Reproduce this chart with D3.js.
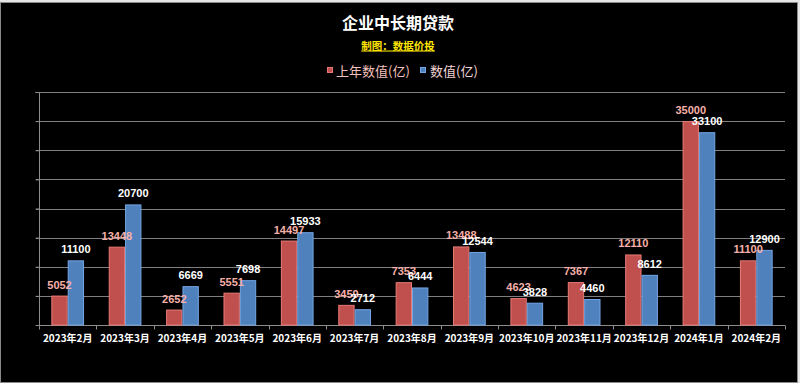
<!DOCTYPE html>
<html><head><meta charset="utf-8">
<script src="https://cdn.jsdelivr.net/npm/d3@7"></script>
<style>
html,body{margin:0;padding:0;background:#e8e8e8;}
svg{display:block;}
</style></head>
<body>
<svg id="chart" width="800" height="383"></svg>
<script>
const categories = ["2023年2月","2023年3月","2023年4月","2023年5月","2023年6月","2023年7月","2023年8月","2023年9月","2023年10月","2023年11月","2023年12月","2024年1月","2024年2月"];
const lastYearValues = [5052,13448,2652,5551,14497,3459,7353,13488,4623,7367,12110,35000,11100];
const currentValues = [11100,20700,6669,7698,15933,2712,6444,12544,3828,4460,8612,33100,12900];
const seriesNames = ["上年数值(亿)","数值(亿)"];
const yTicks = [0,5000,10000,15000,20000,25000,30000,35000,40000];
const titleText = "企业中长期贷款";
const subtitleText = "制图：数据价投";

(function(){
const svg = d3.select("#chart");
const W = 800, H = 383;
const cjk = "'Noto Sans CJK SC','Microsoft YaHei',sans-serif";

// background and frame
svg.append("rect").attr("x",0).attr("y",0).attr("width",W).attr("height",H).attr("fill","#e6e6e6");
svg.append("rect").attr("x",0.5).attr("y",2.5).attr("width",797).attr("height",380)
  .attr("fill","#000").attr("stroke","#8a8a8a").attr("stroke-width",1);

const pLeft = 39, pRight = 785, pTop = 92, pBottom = 325;
const x = d3.scaleBand().domain(categories).range([pLeft,pRight]).paddingInner(0.43).paddingOuter(0.215);
const xs = d3.scaleBand().domain([0,1]).range([0,x.bandwidth()]);
const y = d3.scaleLinear().domain([0,40000]).range([pBottom,pTop]);

// gridlines
svg.append("g").selectAll("line").data(yTicks.slice(1)).join("line")
  .attr("x1",pLeft-3).attr("x2",pRight)
  .attr("y1",d=>Math.round(y(d))+0.5).attr("y2",d=>Math.round(y(d))+0.5)
  .attr("stroke","#7f7f7f").attr("stroke-width",1);

// y axis
const yAxis = svg.append("g").attr("transform",`translate(${pLeft+0.5},0)`)
  .call(d3.axisLeft(y).tickValues(yTicks).tickSize(4).tickFormat(""));
yAxis.selectAll("path,line").attr("stroke","#8c8c8c");
yAxis.select(".domain").attr("d",`M-4,${pTop}.5H0V${pBottom}.5`);

// x axis
const xAxis = svg.append("g").attr("transform",`translate(0,${pBottom+0.5})`);
xAxis.append("line").attr("x1",pLeft).attr("x2",pRight).attr("y1",0).attr("y2",0).attr("stroke","#8c8c8c");
const bounds = categories.map((c,i)=>pLeft + i*x.step()).concat([pRight]);
xAxis.selectAll("line.t").data(bounds).join("line").attr("class","t")
  .attr("x1",d=>Math.round(d)+0.5).attr("x2",d=>Math.round(d)+0.5).attr("y1",0).attr("y2",4).attr("stroke","#8c8c8c");
xAxis.selectAll("text").data(categories).join("text")
  .attr("x",d=>x(d)+x.bandwidth()/2).attr("y",16)
  .attr("text-anchor","middle").attr("fill","#fff")
  .style("font-family",cjk).style("font-size","10px").style("font-weight","bold")
  .text(d=>d);

// bars
const series = [
  {name:seriesNames[0], values:lastYearValues, fill:"#c0504d", stroke:"#e87a76", label:"#f7b0a8"},
  {name:seriesNames[1], values:currentValues, fill:"#4f81bd", stroke:"#74a6e6", label:"#ffffff"}
];
series.forEach((s,si)=>{
  const g = svg.append("g");
  g.selectAll("rect").data(categories).join("rect")
    .attr("x",(d)=>x(d)+xs(si)+0.5)
    .attr("y",(d,i)=>y(s.values[i])+0.5)
    .attr("width",xs.bandwidth()-1)
    .attr("height",(d,i)=>pBottom - y(s.values[i]) - 0.5)
    .attr("fill",s.fill).attr("stroke",s.stroke).attr("stroke-width",1);
});
series.forEach((s,si)=>{
  svg.append("g").selectAll("text").data(categories).join("text")
    .attr("x",d=>x(d)+xs(si)+xs.bandwidth()/2)
    .attr("y",(d,i)=>y(s.values[i])-7)
    .attr("text-anchor","middle").attr("fill",s.label)
    .style("font-family","'Liberation Sans',Arial,sans-serif").style("font-size","11px").style("font-weight","bold")
    .text((d,i)=>s.values[i]);
});

// title
svg.append("text").attr("x",398).attr("y",28.5).attr("text-anchor","middle").attr("fill","#fff")
  .style("font-family",cjk).style("font-size","16px").style("font-weight","bold").text(titleText);
svg.append("text").attr("x",398).attr("y",49.5).attr("text-anchor","middle").attr("fill","#ffe600")
  .style("font-family",cjk).style("font-size","10.5px").style("font-weight","bold")
  .style("text-decoration","underline").text(subtitleText);

// legend
const legend = svg.append("g");
const legendItems = [
  {x:327, sq:series[0].fill, sqs:series[0].stroke, text:seriesNames[0], tx:336, col:"#f4c2bd"},
  {x:420, sq:series[1].fill, sqs:series[1].stroke, text:seriesNames[1], tx:430, col:"#f2d6d6"}
];
legendItems.forEach(it=>{
  legend.append("rect").attr("x",it.x+0.5).attr("y",67.5).attr("width",5).attr("height",5)
    .attr("fill",it.sq).attr("stroke",it.sqs);
  legend.append("text").attr("x",it.tx).attr("y",75.5).attr("fill",it.col)
    .style("font-family",cjk).style("font-size","13px").text(it.text);
});
})();
</script>
</body></html>
